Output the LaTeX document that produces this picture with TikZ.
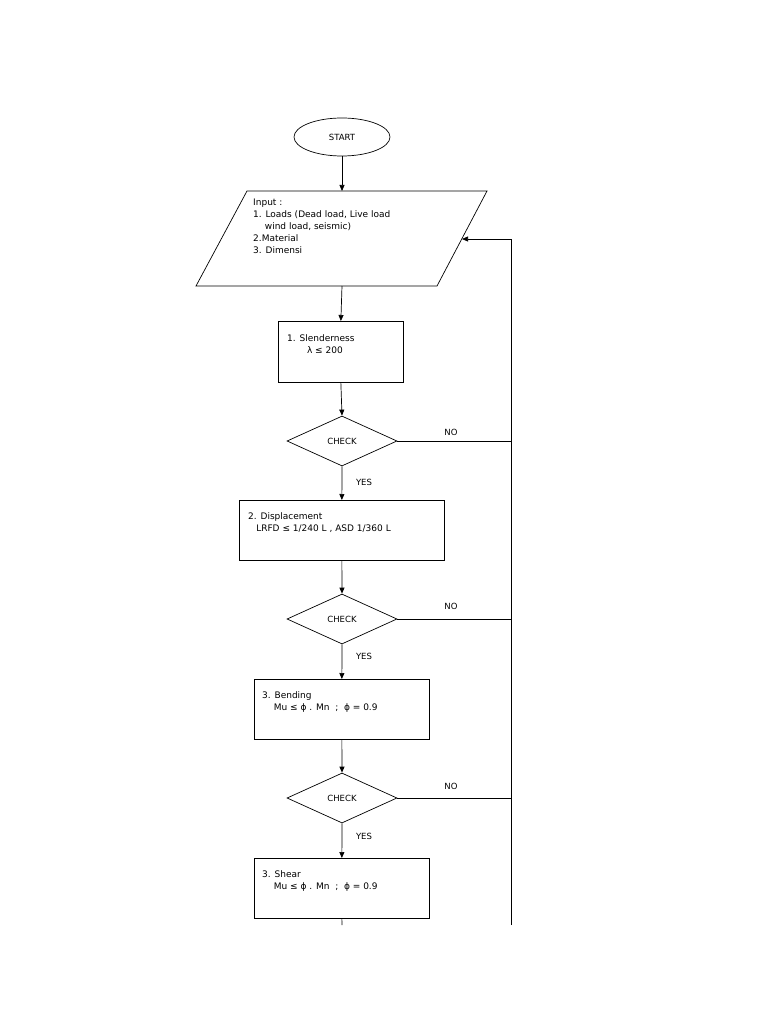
\documentclass[tikz,border=0pt]{standalone}
\usepackage{fontspec}
\setmainfont{DejaVu Sans}
\usetikzlibrary{shapes.geometric,arrows.meta}
\begin{document}
\begin{tikzpicture}[x=1pt,y=-1pt,font=\fontsize{9}{12}\selectfont,
  ln/.style={draw,line width=0.7pt},
  arr/.style={ln,-{Triangle[length=6pt,width=5pt]}},
  box/.style={draw,line width=0.7pt,rectangle,anchor=north west,inner sep=0pt},
  chk/.style={draw,line width=0.7pt,diamond,minimum width=110pt,minimum height=50pt,inner sep=0pt,font=\fontsize{8.5}{10}\selectfont},
  lbl/.style={font=\fontsize{8.5}{10}\selectfont}]
\useasboundingbox (0,0) rectangle (768,1024);
\node[draw,line width=0.7pt,ellipse,minimum width=96pt,minimum height=38pt,inner sep=0pt,font=\fontsize{8.5}{10}\selectfont] (start) at (342,137) {START};
\coordinate (p1) at (247,191); \coordinate (p2) at (487,191);
\coordinate (p3) at (437,286); \coordinate (p4) at (196,286);
\draw[line width=0.7pt] (p1)--(p2)--(p3)--(p4)--cycle;
\node[anchor=north west,align=left,inner sep=0pt] (intext) at (253,199) {Input :\\1. Loads (Dead load, Live load\\\hspace{1.3em}wind load, seismic)\\2.Material\\3. Dimensi};
\coordinate (intop) at (342,191); \coordinate (inbot) at (342,286);
\coordinate (inright) at (462,239);
\node[box,minimum width=125pt,minimum height=61pt] (b1) at (278,321) {};
\node[anchor=north west,align=left,inner sep=0pt] at (287,334) {1. Slenderness\\\hspace{2.2em}λ ≤ 200};
\node[chk] (c1) at (342,441) {CHECK};
\node[box,minimum width=205pt,minimum height=60pt] (b2) at (239,500) {};
\node[anchor=north west,align=left,inner sep=0pt] at (248,512) {2. Displacement\\\hspace{0.9em}LRFD ≤ 1/240 L , ASD 1/360 L};
\node[chk] (c2) at (342,619) {CHECK};
\node[box,minimum width=175pt,minimum height=60pt] (b3) at (254,679) {};
\node[anchor=north west,align=left,inner sep=0pt] at (262,691) {3. Bending\\\hspace{1.3em}Mu ≤ ϕ . Mn \ ; \ ϕ = 0.9};
\node[chk] (c3) at (342,798) {CHECK};
\node[box,minimum width=175pt,minimum height=60pt] (b4) at (254,858) {};
\node[anchor=north west,align=left,inner sep=0pt] at (262,870) {3. Shear\\\hspace{1.3em}Mu ≤ ϕ . Mn \ ; \ ϕ = 0.9};
\coordinate (bend) at (342,925);
\coordinate (rb) at (511,925); \coordinate (rt) at (511,239);
\draw[arr] (start) -- (intop);
\draw[arr] (inbot) -- (b1.north);
\draw[arr] (b1.south) -- (c1.north);
\draw[arr] (c1.south) -- (b2.north);
\draw[arr] (b2.south) -- (c2.north);
\draw[arr] (c2.south) -- (b3.north);
\draw[arr] (b3.south) -- (c3.north);
\draw[arr] (c3.south) -- (b4.north);
\draw[ln] (b4.south) -- (bend);
\draw[ln] (c1.east) -- (c1.east -| rb);
\draw[ln] (c2.east) -- (c2.east -| rb);
\draw[ln] (c3.east) -- (c3.east -| rb);
\draw[arr] (rb) -- (rt) -- (inright);
\node[lbl] at (451,432) {NO};
\node[lbl] at (451,606) {NO};
\node[lbl] at (451,786) {NO};
\node[lbl] at (364,482) {YES};
\node[lbl] at (364,656) {YES};
\node[lbl] at (364,836) {YES};
\end{tikzpicture}
\end{document}
